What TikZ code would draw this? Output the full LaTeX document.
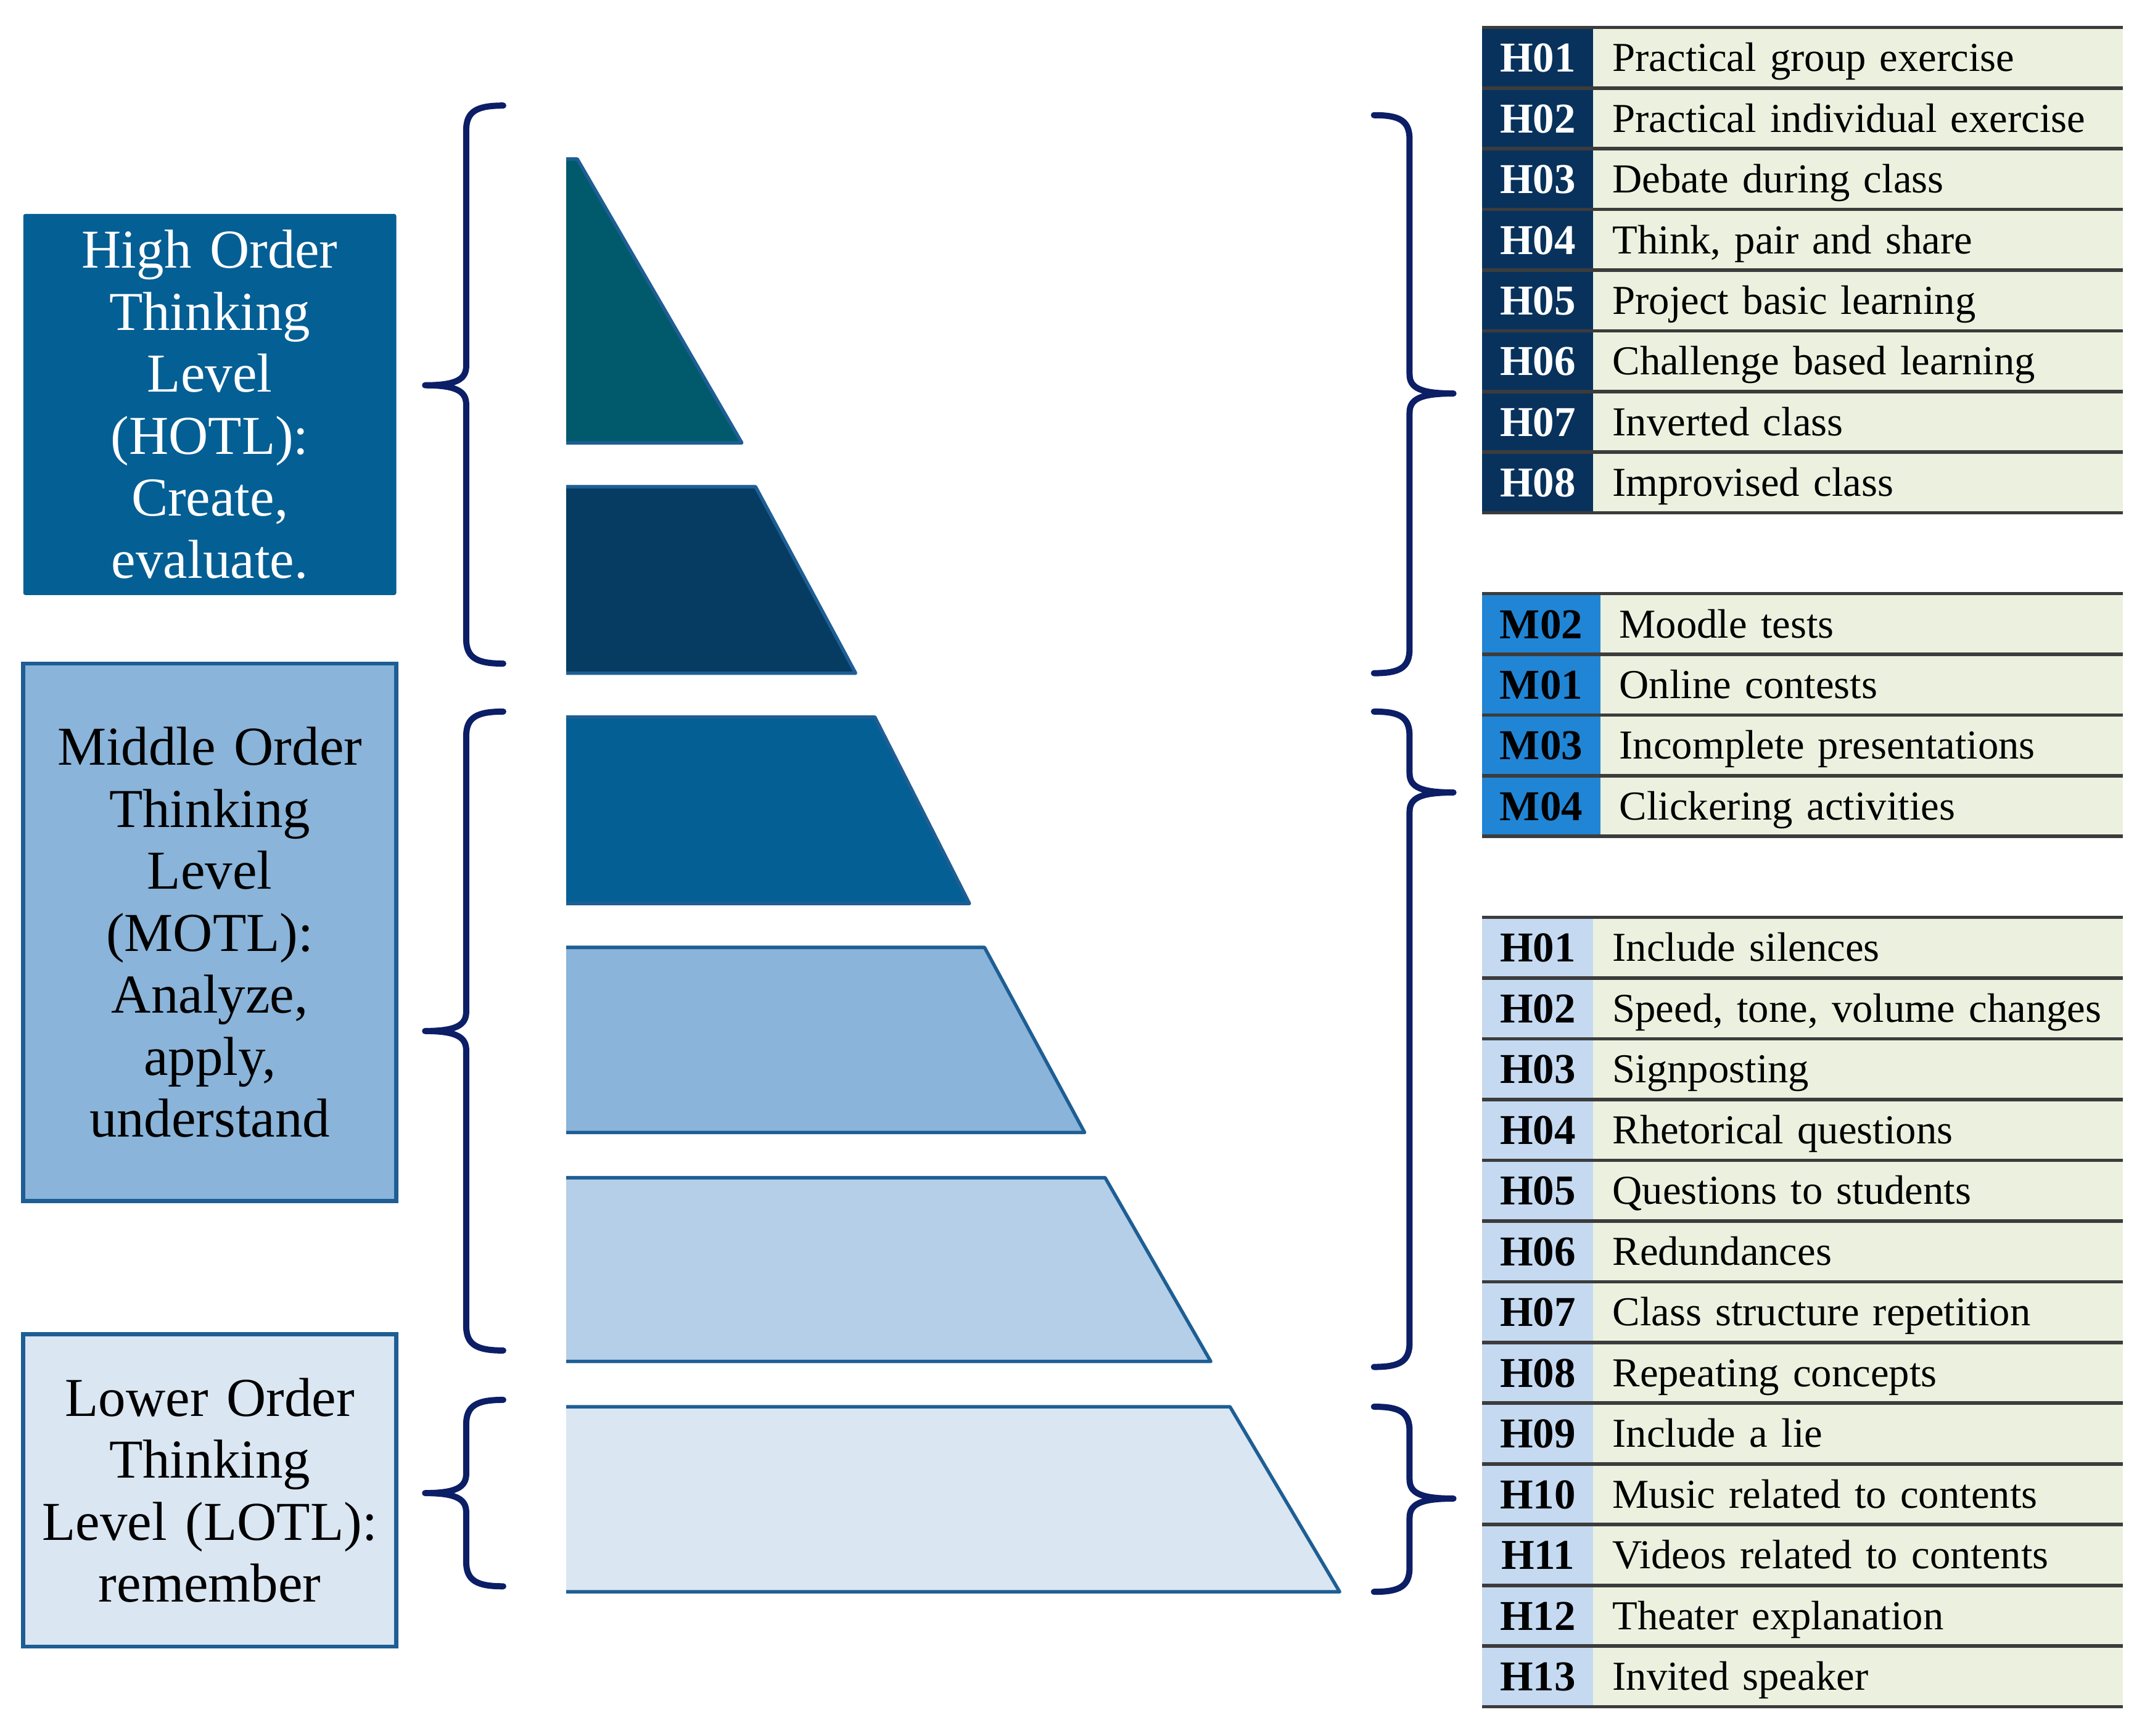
\documentclass[tikz,border=0pt]{standalone}
\usepackage{fontspec}
\setmainfont{Liberation Serif}
\definecolor{bracec}{RGB}{12,30,102}
\definecolor{tealc}{RGB}{0,90,107}
\definecolor{navyl}{RGB}{6,60,98}
\definecolor{midb}{RGB}{4,95,148}
\definecolor{lbone}{RGB}{138,180,217}
\definecolor{lbtwo}{RGB}{180,207,231}
\definecolor{lbthree}{RGB}{218,230,242}
\definecolor{edgeb}{RGB}{30,94,148}
\definecolor{codenavy}{RGB}{8,50,92}
\definecolor{codeblue}{RGB}{33,133,213}
\definecolor{codelight}{RGB}{197,218,241}
\definecolor{greenc}{RGB}{235,241,222}
\definecolor{rowc}{RGB}{60,60,60}
\tikzset{
  bracestroke/.style={draw=bracec, line width=4.5pt, line cap=round, line join=round},
  layerfill/.style={draw=none},
  layeredge/.style={draw=edgeb, line width=2.5pt, line join=round},
  lvlbox/.style={minimum width=272pt, text width=262pt, align=center, inner sep=0pt,
    font=\fontsize{40}{45.2}\selectfont},
  codecell/.style={anchor=north west, minimum width=#1, minimum height=44.25pt,
    inner sep=0pt, outer sep=0pt, font=\fontsize{31}{36}\selectfont\bfseries,
    text height=21pt, text depth=0pt},
  desccell/.style={anchor=north west, text width=#1, minimum height=44.25pt,
    inner xsep=14pt, inner ysep=0pt, outer sep=0pt, align=left, fill=greenc,
    font=\fontsize{30}{36}\selectfont, text height=20pt, text depth=0pt},
  rowline/.style={draw=rowc, line width=2.5pt}
}
\newcommand{\leftbrc}[3]{% top, bottom, tip
  \draw[bracestroke] (367,#1) .. controls (348,#1) and (340,{#1+4}) .. (340,{#1+18})
    -- (340,{#3-14}) .. controls (340,{#3-4}) and (332,#3) .. (310,#3)
    .. controls (332,#3) and (340,{#3+4}) .. (340,{#3+14})
    -- (340,{#2-18}) .. controls (340,{#2-4}) and (348,#2) .. (367,#2);}
\newcommand{\rightbrc}[3]{% top, bottom, tip
  \draw[bracestroke] (1002,#1) .. controls (1021,#1) and (1028,{#1+4}) .. (1028,{#1+18})
    -- (1028,{#3-14}) .. controls (1028,{#3-4}) and (1036,#3) .. (1060,#3)
    .. controls (1036,#3) and (1028,{#3+4}) .. (1028,{#3+14})
    -- (1028,{#2-18}) .. controls (1028,{#2-4}) and (1021,#2) .. (1002,#2);}
\begin{document}
\begin{tikzpicture}[x=1pt,y=-1pt]
\useasboundingbox (0,0) rectangle (1568,1266);
\fill[white] (0,0) rectangle (1568,1266);

% level boxes
\node[lvlbox, fill=midb, text=white, minimum height=278pt, rounded corners=1.5pt] (hotl) at (153,295)
  {High Order\\Thinking\\Level\\(HOTL):\\Create,\\evaluate.};
\node[lvlbox, fill=lbone, draw=edgeb, line width=3pt, minimum height=392pt] (motl) at (153,680)
  {Middle Order\\Thinking\\Level\\(MOTL):\\Analyze,\\apply,\\understand};
\node[lvlbox, fill=lbthree, draw=edgeb, line width=3pt, minimum height=228pt] (lotl) at (153,1087)
  {Lower Order\\Thinking\\Level (LOTL):\\remember};

% braces
\leftbrc{77}{484}{281}
\leftbrc{519}{985}{752}
\leftbrc{1021}{1157}{1089}
\rightbrc{84}{491}{287}
\rightbrc{519}{997}{578}
\rightbrc{1026}{1161}{1093}

% pyramid layers
\fill[tealc] (413,116) -- (421,116) -- (541,323) -- (413,323) -- cycle;
\draw[layeredge] (413,116) -- (421,116) -- (541,323) -- (413,323);
\fill[navyl] (413,355) -- (551,355) -- (624,491) -- (413,491) -- cycle;
\draw[layeredge] (413,355) -- (551,355) -- (624,491) -- (413,491);
\fill[midb] (413,523) -- (638,523) -- (707,659) -- (413,659) -- cycle;
\draw[layeredge] (413,523) -- (638,523) -- (707,659) -- (413,659);
\fill[lbone] (413,691) -- (718,691) -- (791,826) -- (413,826) -- cycle;
\draw[layeredge] (413,691) -- (718,691) -- (791,826) -- (413,826);
\fill[lbtwo] (413,859) -- (806,859) -- (883,993) -- (413,993) -- cycle;
\draw[layeredge] (413,859) -- (806,859) -- (883,993) -- (413,993);
\fill[lbthree] (413,1026) -- (897,1026) -- (977,1161) -- (413,1161) -- cycle;
\draw[layeredge] (413,1026) -- (897,1026) -- (977,1161) -- (413,1161);

% table 1
\foreach \cd/\ds [count=\i from 0] in {H01/Practical group exercise, H02/Practical individual exercise,
  H03/Debate during class, H04/{Think, pair and share}, H05/Project basic learning,
  H06/Challenge based learning, H07/Inverted class, H08/Improvised class}{
  \pgfmathsetmacro\yy{20+\i*44.25}
  \node[codecell=81pt, fill=codenavy, text=white] (ta\i) at (1081,\yy) {\cd};
  \node[desccell=358pt] (tad\i) at (1162,\yy) {\ds};
  \draw[rowline] (ta\i.north west) -- (tad\i.north east);
}
\draw[rowline] (ta7.south west) -- (tad7.south east);

% table 2
\foreach \cd/\ds [count=\i from 0] in {M02/Moodle tests, M01/Online contests,
  M03/Incomplete presentations, M04/Clickering activities}{
  \pgfmathsetmacro\yy{433+\i*44.25}
  \node[codecell=86pt, fill=codeblue, text=black] (tb\i) at (1081,\yy) {\cd};
  \node[desccell=353pt] (tbd\i) at (1167,\yy) {\ds};
  \draw[rowline] (tb\i.north west) -- (tbd\i.north east);
}
\draw[rowline] (tb3.south west) -- (tbd3.south east);

% table 3
\foreach \cd/\ds [count=\i from 0] in {H01/Include silences, H02/{Speed, tone, volume changes},
  H03/Signposting, H04/Rhetorical questions, H05/Questions to students, H06/Redundances,
  H07/Class structure repetition, H08/Repeating concepts, H09/Include a lie,
  H10/Music related to contents, H11/Videos related to contents, H12/Theater explanation,
  H13/Invited speaker}{
  \pgfmathsetmacro\yy{669+\i*44.3}
  \node[codecell=81pt, fill=codelight, text=black, minimum height=44.3pt] (tc\i) at (1081,\yy) {\cd};
  \node[desccell=358pt, minimum height=44.3pt] (tcd\i) at (1162,\yy) {\ds};
  \draw[rowline] (tc\i.north west) -- (tcd\i.north east);
}
\draw[rowline] (tc12.south west) -- (tcd12.south east);
\end{tikzpicture}
\end{document}
